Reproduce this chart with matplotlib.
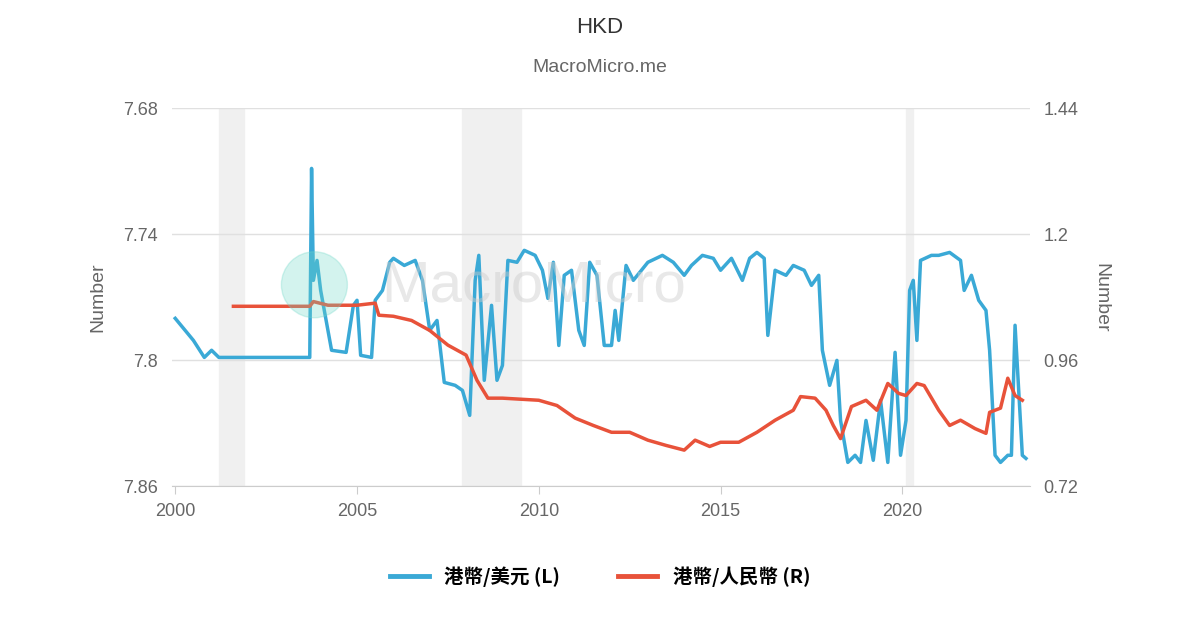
import matplotlib
matplotlib.use("Agg")
import matplotlib.pyplot as plt
from matplotlib.patches import Ellipse

plt.rcParams['font.family'] = ['Liberation Sans', 'Noto Sans CJK TC', 'DejaVu Sans']

# HKD per USD (left axis, inverted)
usd_t = [2000.0, 2000.5, 2000.8, 2001.0, 2001.2, 2002.0, 2003.0, 2003.7, 2003.75, 2003.8, 2003.9,
         2004.0, 2004.3, 2004.7, 2004.9, 2005.0, 2005.1, 2005.4, 2005.5, 2005.7, 2005.9, 2006.0,
         2006.3, 2006.6, 2006.8, 2007.0, 2007.2, 2007.4, 2007.7, 2007.9, 2008.1, 2008.25, 2008.35,
         2008.5, 2008.7, 2008.85, 2009.0, 2009.15, 2009.4, 2009.6, 2009.9, 2010.1, 2010.25, 2010.4,
         2010.55, 2010.7, 2010.9, 2011.1, 2011.25, 2011.4, 2011.6, 2011.8, 2012.0, 2012.1, 2012.2,
         2012.4, 2012.6, 2013.0, 2013.4, 2013.7, 2014.0, 2014.2, 2014.5, 2014.8, 2015.0, 2015.3,
         2015.6, 2015.8, 2016.0, 2016.2, 2016.3, 2016.5, 2016.8, 2017.0, 2017.3, 2017.5, 2017.7,
         2017.8, 2018.0, 2018.2, 2018.3, 2018.5, 2018.7, 2018.85, 2019.0, 2019.2, 2019.4, 2019.6,
         2019.8, 2019.95, 2020.1, 2020.2, 2020.3, 2020.4, 2020.5, 2020.8, 2021.0, 2021.3, 2021.6,
         2021.7, 2021.9, 2022.1, 2022.3, 2022.4, 2022.55, 2022.7, 2022.9, 2023.0, 2023.1, 2023.3,
         2023.4]
usd_v = [7.780, 7.7905, 7.7986, 7.7952, 7.7986, 7.7986, 7.7986, 7.7986, 7.7086, 7.7619, 7.7524,
         7.7667, 7.7952, 7.7962, 7.7738, 7.7714, 7.7976, 7.7986, 7.7714, 7.7667, 7.7533, 7.7514,
         7.7548, 7.7524, 7.7619, 7.7857, 7.7810, 7.8105, 7.8119, 7.8143, 7.8262, 7.7619, 7.7500,
         7.8095, 7.7738, 7.8095, 7.8024, 7.7524, 7.7533, 7.7476, 7.7500, 7.7571, 7.7705, 7.7533,
         7.7929, 7.7595, 7.7571, 7.7857, 7.7929, 7.7533, 7.7595, 7.7929, 7.7929, 7.7762, 7.7905,
         7.7548, 7.7619, 7.7533, 7.7500, 7.7533, 7.7595, 7.7548, 7.7500, 7.7514, 7.7571, 7.7514,
         7.7619, 7.7514, 7.7486, 7.7514, 7.7881, 7.7571, 7.7595, 7.7548, 7.7571, 7.7643, 7.7595,
         7.7952, 7.8119, 7.8000, 7.8286, 7.8486, 7.8452, 7.8486, 7.8286, 7.8476, 7.8190, 7.8486,
         7.7962, 7.8452, 7.8286, 7.7667, 7.7619, 7.7905, 7.7524, 7.7500, 7.7500, 7.7486, 7.7524,
         7.7667, 7.7595, 7.7714, 7.7762, 7.7952, 7.8452, 7.8486, 7.8452, 7.8452, 7.7833, 7.8452,
         7.8467]

# HKD per CNY (right axis)
cny_t = [2001.6, 2003.7, 2003.8, 2004.2, 2005.0, 2005.5, 2005.6, 2006.0, 2006.5, 2007.0, 2007.5,
         2008.0, 2008.3, 2008.6, 2009.0, 2010.0, 2010.5, 2011.0, 2011.5, 2012.0, 2012.5, 2013.0,
         2013.5, 2014.0, 2014.3, 2014.7, 2015.0, 2015.5, 2016.0, 2016.5, 2017.0, 2017.2, 2017.6,
         2017.9, 2018.1, 2018.3, 2018.6, 2019.0, 2019.3, 2019.6, 2019.9, 2020.1, 2020.4, 2020.6,
         2021.0, 2021.3, 2021.6, 2022.0, 2022.3, 2022.4, 2022.7, 2022.9, 2023.1, 2023.3]
cny_v = [1.063, 1.063, 1.072, 1.065, 1.065, 1.069, 1.046, 1.044, 1.036, 1.017, 0.989,
         0.970, 0.922, 0.888, 0.888, 0.884, 0.874, 0.850, 0.836, 0.823, 0.823, 0.808,
         0.798, 0.789, 0.808, 0.796, 0.804, 0.804, 0.823, 0.846, 0.865, 0.891, 0.888,
         0.865, 0.836, 0.811, 0.872, 0.884, 0.865, 0.916, 0.897, 0.893, 0.916, 0.912,
         0.865, 0.836, 0.846, 0.830, 0.821, 0.861, 0.869, 0.926, 0.893, 0.884]

recessions = [(2001.2, 2001.9), (2007.9, 2009.5), (2020.1, 2020.3)]

blue = '#3aa9d6'
red = '#e8523a'
grey = '#666666'

fig = plt.figure(figsize=(12, 6.3), dpi=100)
ax = fig.add_axes([0.143, 0.228, 0.715, 0.6])
ax2 = ax.twinx()

for a, b in recessions:
    ax.axvspan(a, b, color='#f0f0f0', zorder=0)

ax.plot(usd_t, usd_v, color=blue, lw=2.5, zorder=3)
ax2.plot(cny_t, cny_v, color=red, lw=2.5, zorder=3)

ax.set_xlim(1999.9, 2023.5)
ax.set_ylim(7.86, 7.68)
ax.set_yticks([7.68, 7.74, 7.8, 7.86])
ax.set_yticklabels(['7.68', '7.74', '7.8', '7.86'])
ax2.set_ylim(0.72, 1.44)
ax2.set_yticks([0.72, 0.96, 1.2, 1.44])
ax2.set_yticklabels(['0.72', '0.96', '1.2', '1.44'])
ax.set_xticks([2000, 2005, 2010, 2015, 2020])
ax.yaxis.grid(True, color='#e0e0e0', lw=1)
ax.set_axisbelow(True)

for a in (ax, ax2):
    for s in a.spines.values():
        s.set_visible(False)
    a.tick_params(length=0, labelsize=13, labelcolor=grey, pad=10)
ax.spines['bottom'].set_visible(True)
ax.spines['bottom'].set_color('#cccccc')
ax.tick_params(axis='x', length=6, color='#cccccc', pad=6)

ax.set_ylabel('Number', fontsize=14, color=grey, labelpad=12)
ax2.set_ylabel('Number', fontsize=14, color=grey, rotation=270, labelpad=22)

fig.text(0.5, 0.948, 'HKD', ha='center', fontsize=16, color='#333333')
fig.text(0.5, 0.885, 'MacroMicro.me', ha='center', fontsize=14, color=grey)

# watermark
fig.patches.append(Ellipse((0.262, 0.548), 66 / 1200, 66 / 630, transform=fig.transFigure,
                           color='#6fd8c8', alpha=0.3, zorder=1))
fig.text(0.318, 0.545, 'MacroMicro', fontsize=42, color='#cccccc', alpha=0.45,
         ha='left', va='center')

h1, = ax.plot([], [], color=blue, lw=3.5)
h2, = ax.plot([], [], color=red, lw=3.5)
fig.legend([h1, h2], ['港幣/美元 (L)', '港幣/人民幣 (R)'], loc='center', ncol=2,
           bbox_to_anchor=(0.5, 0.085), frameon=False, handlelength=2, columnspacing=3,
           prop={'family': ['Noto Sans CJK TC', 'DejaVu Sans'], 'weight': 'bold', 'size': 14})

fig.savefig('out.png', dpi=100)
